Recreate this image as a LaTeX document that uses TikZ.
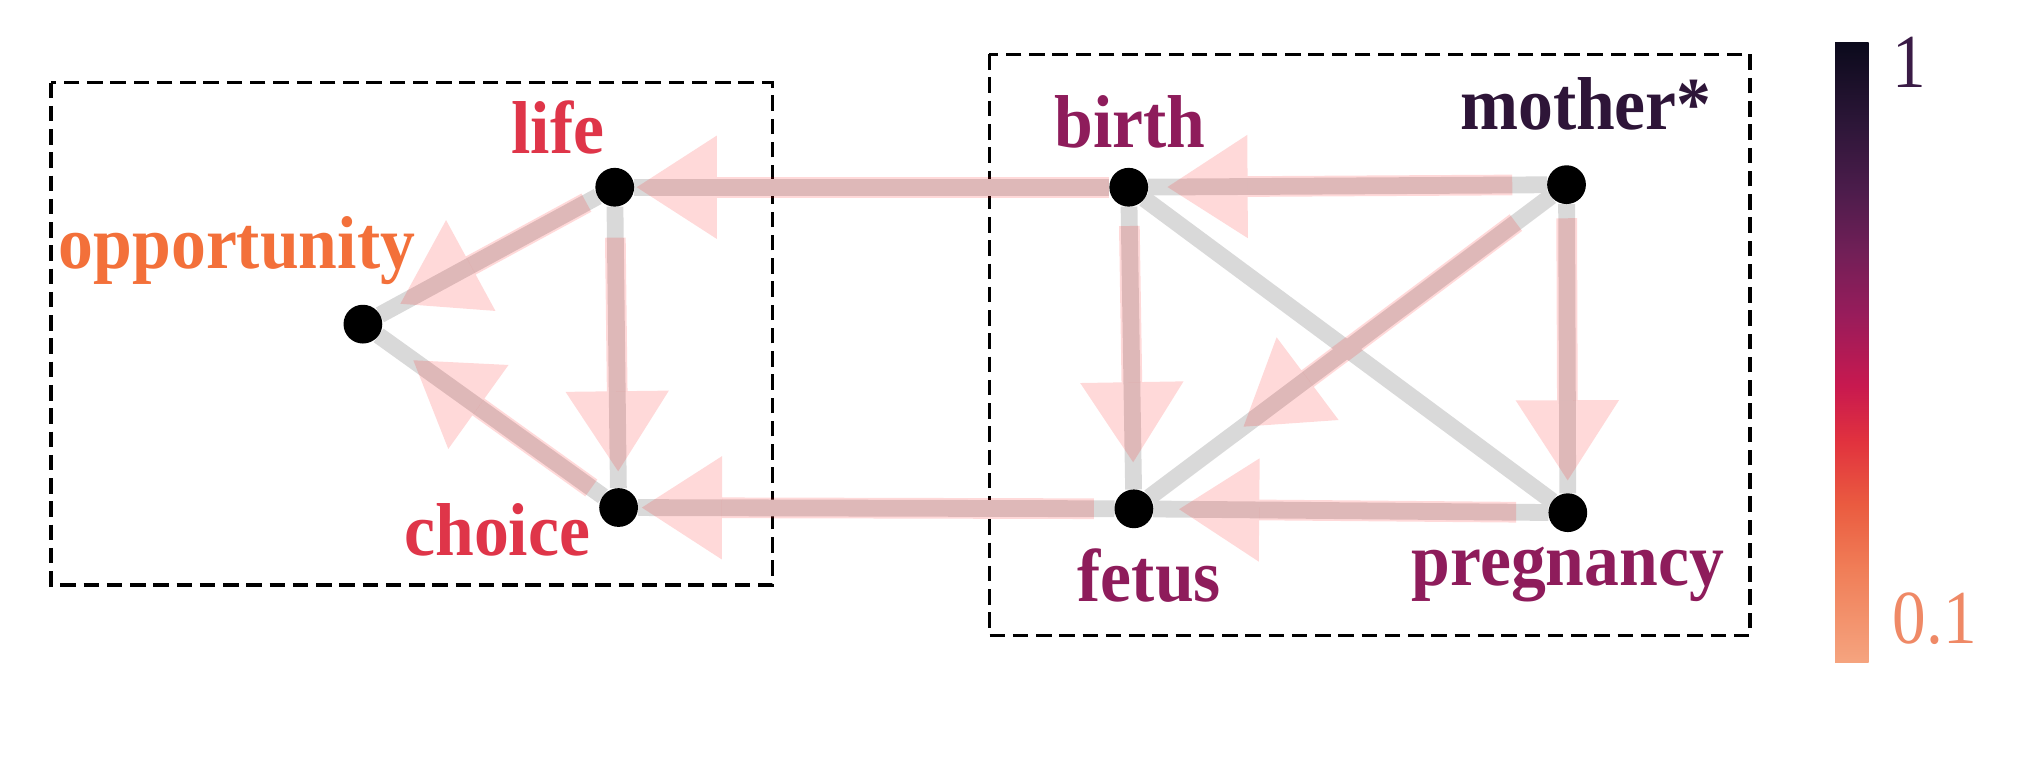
\documentclass[tikz,border=0pt]{standalone}
\usepackage{fontspec}
\setmainfont{Liberation Serif}
\newfontfamily\lblfont[FakeStretch=0.93]{Liberation Serif}
\newfontfamily\barfont[FakeStretch=0.88]{Liberation Serif}
\usetikzlibrary{arrows.meta,backgrounds}
% colours of the words and of the scale
\definecolor{cOpp}{HTML}{F3703A}
\definecolor{cRed}{HTML}{DF3549}
\definecolor{cPlum}{HTML}{8E1C5B}
\definecolor{cDark}{HTML}{2E1538}
\definecolor{cOne}{HTML}{3A1B46}
\definecolor{cLow}{HTML}{EF8966}
\definecolor{edgegray}{HTML}{D9D9D9}
\definecolor{r0}{HTML}{F5A47F}
\definecolor{r1}{HTML}{F07D57}
\definecolor{r2}{HTML}{EA5B40}
\definecolor{r3}{HTML}{E1323E}
\definecolor{r4}{HTML}{C8194F}
\definecolor{r5}{HTML}{981C5B}
\definecolor{r6}{HTML}{711F57}
\definecolor{r7}{HTML}{4B1C4B}
\definecolor{r8}{HTML}{2D1638}
\definecolor{r9}{HTML}{0B0A1C}
\pgfdeclareverticalshading{rocketbar}{100bp}{color(0bp)=(r0); color(25bp)=(r0);
	color(32.65bp)=(r1); color(37.75bp)=(r2); color(42.85bp)=(r3); color(47.3bp)=(r4);
	color(53.05bp)=(r5); color(58.15bp)=(r6); color(63.25bp)=(r7); color(68.35bp)=(r8);
	color(75bp)=(r9); color(100bp)=(r9)}
\tikzset{%
	% Specifications for style of nodes:
	vertex/.style = {circle, fill=black, inner sep=0pt, outer sep=0pt, minimum size=0.3cm},
	lbl/.style = {inner sep=0pt, anchor=base, font=\lblfont\fontsize{16.5}{18}\selectfont\bfseries},
	barlbl/.style = {inner sep=0pt, anchor=base west, font=\barfont\fontsize{16.8}{18}\selectfont},
	gedge/.style = {draw=edgegray, line width=0.13cm},
	attn/.style = {draw=red, line width=0.16cm, opacity=0.15,
		-{Triangle[length=0.62cm, width=0.8cm, line width=0pt]}},
	dbox/.style = {draw=black, line width=0.7pt, dash pattern=on 0.12cm off 0.06cm}
}

\begin{document}
\begin{tikzpicture}[x=0.01cm, y=-0.01cm]
	\useasboundingbox (0,0) rectangle (1568,589);
	% Specification of nodes (position, etc.)
	\node (life)   [vertex] at (476,145) {};
	\node (opp)    [vertex] at (281,251) {};
	\node (choice) [vertex] at (479,393) {};
	\node (birth)  [vertex] at (874,145) {};
	\node (mother) [vertex] at (1213,143) {};
	\node (fetus)  [vertex] at (878,394) {};
	\node (preg)   [vertex] at (1214,397) {};
	
	\node (lifelbl)   [lbl, text=cRed]  at (432,118.6) {life};
	\node (opplbl)    [lbl, text=cOpp]  at (183.5,208) {opportunity};
	\node (choicelbl) [lbl, text=cRed]  at (385,430) {choice};
	\node (birthlbl)  [lbl, text=cPlum] at (875,114) {birth};
	\node (motherlbl) [lbl, text=cDark] at (1228,100) {mother*};
	\node (fetuslbl)  [lbl, text=cPlum] at (890,465.6) {fetus};
	\node (preglbl)   [lbl, text=cPlum] at (1214,453) {pregnancy};
	
	% colour scale
	\shade[shading=rocketbar] (1421,33) rectangle (1447,513);
	\node (topval) [barlbl, text=cOne] at (1465,68) {1};
	\node (lowval) [barlbl, text=cLow] at (1465,498.5) {0.1};
	
	\begin{scope}[on background layer]
		\draw[dbox] (39.5,64) rectangle (598,453);
		\draw[dbox] (766,42) rectangle (1355,492);
		
		\draw[gedge] (life) -- (opp);
		\draw[gedge] (opp) -- (choice);
		\draw[gedge] (life) -- (choice);
		\draw[gedge] (life) -- (birth);
		\draw[gedge] (choice) -- (fetus);
		\draw[gedge] (birth) -- (mother);
		\draw[gedge] (birth) -- (fetus);
		\draw[gedge] (birth) -- (preg);
		\draw[gedge] (mother) -- (fetus);
		\draw[gedge] (mother) -- (preg);
		\draw[gedge] (fetus) -- (preg);
		
		\draw[attn, shorten <=0cm, shorten >=0.02cm] (birth) -- (life);
		\draw[attn, shorten <=0.16cm, shorten >=0.03cm] (fetus) -- (choice);
		\draw[attn, shorten <=0.27cm, shorten >=0.15cm] (mother) -- (birth);
		\draw[attn, shorten <=0.10cm, shorten >=0.18cm] (life) -- (opp);
		\draw[attn, shorten <=0.11cm, shorten >=0.33cm] (choice) -- (opp);
		\draw[attn, shorten <=0.24cm, shorten >=0.13cm] (life) -- (choice);
		\draw[attn, shorten <=0.15cm, shorten >=0.21cm] (birth) -- (fetus);
		\draw[attn, shorten <=0.34cm, shorten >=0.91cm] (mother) -- (fetus);
		\draw[attn, shorten <=0.11cm, shorten >=0.10cm] (mother) -- (preg);
		\draw[attn, shorten <=0.25cm, shorten >=0.20cm] (preg) -- (fetus);
	\end{scope}
\end{tikzpicture}
\end{document}
